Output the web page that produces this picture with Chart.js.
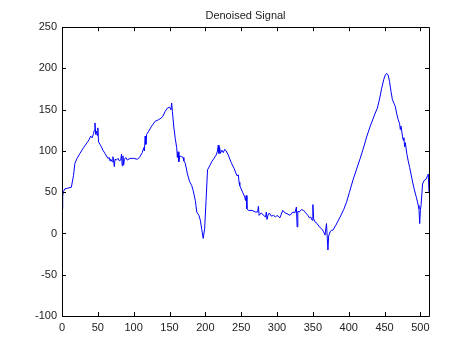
<!DOCTYPE html>
<html>
<head>
<meta charset="utf-8">
<script src="https://cdn.jsdelivr.net/npm/chart.js@4"></script>
<style>
  body { margin: 0; background: #fff; }
</style>
</head>
<body>
<canvas id="myChart" width="474" height="355"></canvas>
<script>
// sample index and signal value
var xs = [0, 1, 2, 4, 8, 13, 16, 18, 21, 25, 30, 35, 38, 40, 42, 44, 45, 46, 47, 48, 49, 50, 51, 53, 55, 57, 60, 62, 64, 66,
    67, 68, 70, 71, 72, 73, 74, 76, 78, 80, 82, 83, 84, 85, 86, 87, 89, 91, 95, 100, 105, 108, 112, 114, 115, 116, 117, 118, 121, 125,
    130, 135, 140, 144, 147, 150, 152, 153, 154, 156, 158, 160, 161, 162, 163, 164, 167, 169, 170, 172, 175, 178, 181, 183, 186, 188, 191, 193, 195, 197,
    199, 201, 203, 206, 209, 212, 215, 217, 218, 219, 220, 221, 223, 225, 227, 229, 232, 236, 240, 244, 246, 247, 248, 252, 255, 256, 257, 258, 260, 265,
    270, 273, 274, 275, 278, 281, 284, 285, 286, 288, 290, 292, 295, 298, 300, 304, 308, 311, 314, 318, 322, 325, 327, 328, 329, 331, 334, 337, 340, 343,
    345, 347, 349, 350, 351, 353, 356, 359, 362, 365, 367, 369, 371, 372, 374, 376, 378, 382, 388, 393, 397, 401, 406, 411, 416, 420, 425, 430, 434, 437,
    440, 443, 446, 449, 451, 453, 455, 457, 459, 461, 463, 465, 467, 469, 471, 472, 473, 475, 476, 477, 478, 479, 481, 483, 485, 488, 491, 494, 496, 497,
    498, 499, 500, 501, 503, 505, 508, 510, 511, 512];
var ys = [30, 45, 51, 54, 55, 56, 70, 85, 91, 97, 104, 110, 114, 118, 116, 121, 125, 134, 120, 124, 119, 128, 111, 108, 105, 101, 97, 94, 91, 92,
    88, 90, 87, 93, 88, 81, 90, 89, 91, 88, 89, 96, 82, 94, 83, 90, 92, 89, 91, 91, 90, 92, 98, 104, 100, 118, 108, 120, 124, 130,
    136, 138, 141, 148, 152, 153, 150, 158, 148, 129, 115, 104, 92, 99, 87, 94, 93, 92, 88, 85, 72, 63, 58, 52, 40, 26, 22, 16, 5, -6,
    6, 40, 77, 82, 87, 91, 95, 100, 107, 97, 104, 97, 101, 98, 102, 100, 95, 86, 79, 70, 71, 62, 58, 50, 44, 40, 46, 30, 28, 28,
    26, 26, 33, 22, 25, 22, 20, 26, 17, 24, 24, 21, 22, 20, 22, 19, 28, 25, 24, 22, 26, 25, 32, 8, 27, 26, 29, 28, 25, 22,
    19, 20, 16, 35, 18, 14, 12, 8, 6, 2, -2, 12, -20, -3, 2, 4, 4, 10, 20, 29, 38, 50, 65, 78, 91, 102, 117, 130, 139, 146,
    152, 163, 176, 187, 192, 194, 192, 184, 172, 162, 158, 154, 145, 138, 133, 126, 130, 118, 113, 116, 105, 110, 97, 88, 80, 67, 55, 45, 38, 34,
    30, 12, 28, 35, 60, 64, 66, 70, 72, 50];

var xTicks = [0, 50, 100, 150, 200, 250, 300, 350, 400, 450, 500];
var yTicks = [-100, -50, 0, 50, 100, 150, 200, 250];

var points = xs.map(function (x, i) { return { x: x, y: ys[i] }; });

// matlab style box with ticks pointing inwards
var boxPlugin = {
    id: 'box',
    afterDraw: function (chart) {
        var c = chart.ctx, a = chart.chartArea;
        var sx = chart.scales.x, sy = chart.scales.y;
        c.save();
        c.strokeStyle = '#000';
        c.lineWidth = 1;
        c.beginPath();
        c.rect(Math.round(a.left) + 0.5, Math.round(a.top) + 0.5,
            Math.round(a.right - a.left), Math.round(a.bottom - a.top));
        xTicks.forEach(function (t) {
            var px = Math.round(sx.getPixelForValue(t)) + 0.5;
            c.moveTo(px, a.bottom);
            c.lineTo(px, a.bottom - 4);
            c.moveTo(px, a.top);
            c.lineTo(px, a.top + 4);
        });
        yTicks.forEach(function (t) {
            var py = Math.round(sy.getPixelForValue(t)) + 0.5;
            c.moveTo(a.left, py);
            c.lineTo(a.left + 4, py);
            c.moveTo(a.right, py);
            c.lineTo(a.right - 4, py);
        });
        c.stroke();
        c.restore();
    }
};

var ctx = document.getElementById('myChart').getContext('2d');

var myChart = new Chart(ctx, {
    type: 'line',
    data: {
        datasets: [{
            data: points,
            borderColor: '#0000ff',
            borderWidth: 1,
            pointRadius: 0,
            tension: 0,
            fill: false
        }]
    },
    options: {
        responsive: false,
        animation: false,
        layout: { padding: { right: 45 } },
        plugins: {
            legend: { display: false },
            tooltip: { enabled: false },
            title: {
                display: true,
                text: 'Denoised Signal',
                fullSize: false,
                color: '#222',
                font: { family: 'Liberation Sans, Arial, sans-serif', size: 11, weight: 'normal' },
                padding: { top: 9, bottom: 5 }
            }
        },
        scales: {
            x: {
                type: 'linear',
                min: 0,
                max: 512,
                afterFit: function (s) { s.height = 39; },
                afterBuildTicks: function (s) { s.ticks = xTicks.map(function (v) { return { value: v }; }); },
                grid: { display: false, drawTicks: false },
                border: { display: false },
                ticks: {
                    color: '#222',
                    padding: 5,
                    maxRotation: 0,
                    font: { family: 'Liberation Sans, Arial, sans-serif', size: 11 }
                }
            },
            y: {
                type: 'linear',
                min: -100,
                max: 250,
                afterFit: function (s) { s.width = 62; },
                afterBuildTicks: function (s) { s.ticks = yTicks.map(function (v) { return { value: v }; }); },
                grid: { display: false, drawTicks: false },
                border: { display: false },
                ticks: {
                    color: '#222',
                    padding: 5,
                    font: { family: 'Liberation Sans, Arial, sans-serif', size: 11 }
                }
            }
        }
    },
    plugins: [boxPlugin]
});
</script>
</body>
</html>
